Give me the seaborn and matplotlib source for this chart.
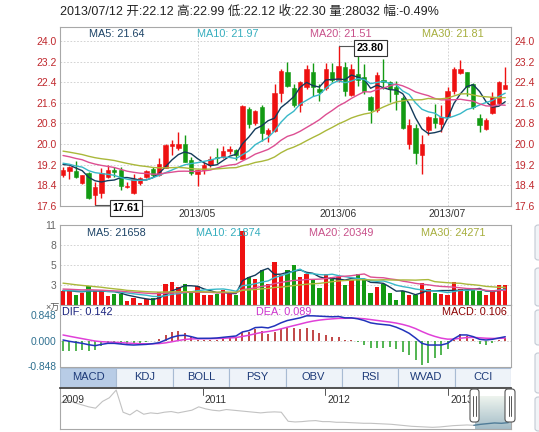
import numpy as np
import pandas as pd
import matplotlib
matplotlib.use("Agg")
import matplotlib.pyplot as plt
import seaborn as sns
from matplotlib.patches import Rectangle, FancyBboxPatch
from matplotlib.lines import Line2D
from matplotlib.colors import LinearSegmentedColormap
from matplotlib.transforms import blended_transform_factory

# daily candles 2013/03/27 .. 2013/07/12
opens = [18.78, 18.95, 18.95, 18.49, 18.87, 18.01, 18.08, 18.72, 18.98, 19.00,
         18.33, 18.08, 18.50, 18.72, 19.04, 18.78, 19.08, 19.90, 19.85, 20.00,
         19.36, 18.85, 18.98, 19.20, 19.50, 19.49, 19.71, 19.77, 19.43, 21.36,
         20.80, 21.42, 20.40, 20.50, 21.96, 22.78, 22.17, 21.53, 22.20, 22.78,
         22.13, 22.16, 22.80, 22.48, 22.97, 21.91, 22.71, 22.61, 21.84, 21.30,
         22.48, 22.39, 22.20, 21.78, 20.00, 20.63, 19.56, 20.55, 21.00, 20.78,
         21.06, 22.04, 22.75, 22.78, 22.33, 21.00, 20.59, 21.19, 21.60, 22.12]
highs = [19.10, 19.15, 19.34, 18.80, 18.90, 18.53, 19.07, 19.17, 19.10, 19.10,
         18.52, 18.85, 18.72, 19.00, 19.10, 19.47, 19.98, 20.16, 20.48, 20.33,
         19.50, 19.00, 19.30, 19.53, 19.85, 19.90, 19.90, 19.82, 21.50, 21.42,
         21.33, 21.51, 20.60, 22.33, 22.90, 23.20, 22.33, 22.45, 23.07, 23.16,
         22.33, 23.16, 23.16, 23.80, 23.20, 23.10, 23.61, 23.10, 21.87, 22.80,
         23.29, 22.45, 22.45, 21.85, 20.97, 20.78, 20.33, 21.10, 21.55, 21.53,
         22.20, 23.00, 23.27, 22.80, 22.35, 21.17, 21.00, 22.00, 22.45, 22.99]
lows = [18.72, 18.65, 18.66, 18.46, 17.85, 17.61, 17.88, 18.66, 18.72, 18.20,
        18.28, 18.05, 18.40, 18.69, 18.72, 18.75, 19.06, 19.56, 19.75, 19.28,
        18.78, 18.36, 18.85, 19.10, 19.25, 19.45, 19.62, 19.36, 19.40, 20.60,
        20.72, 20.13, 20.07, 20.45, 21.62, 22.20, 21.42, 21.23, 22.13, 21.87,
        21.68, 22.10, 22.40, 22.40, 21.87, 21.87, 22.26, 21.95, 20.80, 21.25,
        22.13, 21.62, 21.30, 20.58, 19.81, 19.23, 18.85, 20.33, 20.63, 20.46,
        21.04, 21.94, 22.70, 21.87, 21.36, 20.46, 20.55, 21.15, 21.50, 22.12]
closes = [19.00, 19.10, 18.72, 18.78, 17.91, 18.33, 18.87, 18.98, 18.90, 18.36,
          18.36, 18.65, 18.69, 18.95, 18.78, 19.23, 19.94, 20.00, 19.98, 19.30,
          18.87, 18.98, 19.20, 19.43, 19.47, 19.71, 19.81, 19.56, 21.49, 20.78,
          21.27, 20.42, 20.55, 21.98, 22.84, 22.26, 21.53, 22.39, 22.93, 22.20,
          22.00, 22.90, 22.48, 23.03, 22.07, 22.90, 22.48, 22.04, 21.32, 22.67,
          22.39, 22.13, 21.94, 20.63, 20.72, 19.65, 19.98, 21.04, 20.80, 21.06,
          22.07, 22.90, 22.90, 22.22, 21.42, 20.75, 20.93, 21.81, 22.41, 22.30]
# volume, x10k shares
volumes = [1.90, 2.03, 1.45, 1.67, 2.62, 1.94, 1.90, 1.26, 1.58, 1.58,
           0.63, 0.99, 0.36, 0.81, 1.04, 1.81, 2.94, 3.16, 2.48, 2.94,
           1.72, 2.57, 1.35, 1.35, 1.58, 2.03, 1.67, 1.35, 10.03, 3.84,
           3.52, 4.74, 2.90, 5.90, 4.06, 4.74, 5.42, 3.84, 4.29, 3.39,
           2.35, 4.30, 3.85, 3.90, 2.71, 3.40, 4.20, 3.52, 1.72, 2.48,
           2.94, 1.67, 0.77, 1.94, 1.35, 1.45, 3.03, 2.26, 1.67, 1.58,
           1.45, 3.16, 2.26, 2.03, 2.03, 1.94, 1.35, 2.03, 2.70, 2.80]

# estimated days before the window, only used to start the moving averages
prior_close = [20.3, 20.1, 20.2, 19.9, 20.0, 20.1, 19.9, 20.0, 20.1, 20.0,
               20.1, 20.0, 19.8, 19.9, 19.7, 19.9, 19.8, 19.7, 19.8, 19.8,
               19.5, 19.4, 19.2, 19.3, 19.1, 19.2, 19.3, 19.3, 19.2]
prior_vol = [5.2, 4.8, 4.4, 5.0, 4.6, 4.3, 4.7, 4.5, 4.2, 4.3,
             2.6, 2.3, 2.5, 2.2, 2.6, 2.4, 2.3, 2.5, 2.2, 2.4,
             2.1, 1.9, 2.0, 2.2, 1.8, 2.0, 2.1, 1.9, 2.1]

# MACD panel: DIF, DEA starts at the value shown
dif = [0.033, -0.011, -0.045, -0.078, -0.123, -0.156, -0.112, -0.078, -0.078, -0.100,
       -0.123, -0.134, -0.123, -0.112, -0.089, -0.056, 0.033, 0.123, 0.179, 0.190,
       0.145, 0.089, 0.089, 0.089, 0.100, 0.123, 0.145, 0.167, 0.301, 0.346,
       0.446, 0.458, 0.435, 0.502, 0.603, 0.681, 0.725, 0.770, 0.837, 0.837,
       0.826, 0.815, 0.804, 0.815, 0.770, 0.770, 0.737, 0.681, 0.603, 0.569,
       0.547, 0.525, 0.458, 0.368, 0.257, 0.100, -0.078, -0.134, -0.134, -0.134,
       -0.078, 0.078, 0.201, 0.201, 0.145, 0.056, 0.033, 0.056, 0.100, 0.142]
dea_start = 0.20

date_pos = [21, 43, 60]
date_labels = ['2013/05', '2013/06', '2013/07']
price_ticks = [17.6, 18.4, 19.2, 20.0, 20.8, 21.6, 22.4, 23.2, 24.0]
vol_ticks = [2.73, 5.46, 8.19, 10.92]
vol_tick_labels = ['3', '5', '8', '11']
macd_ticks = [-0.848, 0.0, 0.848]
macd_tick_labels = ['-0.848', '0.000', '0.848']

title = '2013/07/12 开:22.12 高:22.99 低:22.12 收:22.30 量:28032 幅:-0.49%'
ma_legend = ['MA5: 21.64', 'MA10: 21.97', 'MA20: 21.51', 'MA30: 21.81']
vol_legend = ['MA5: 21658', 'MA10: 21874', 'MA20: 20349', 'MA30: 24271']
macd_legend = ['DIF: 0.142', 'DEA: 0.089', 'MACD: 0.106']
tabs = ['MACD', 'KDJ', 'BOLL', 'PSY', 'OBV', 'RSI', 'WVAD', 'CCI']

# long range overview strip (2009 .. 2013)
nav_vals = [10.0, 10.8, 10.0, 9.4, 8.8, 8.4, 10.4, 11.5, 13.8, 7.2,
            6.4, 7.8, 6.6, 7.0, 6.8, 7.2, 7.4, 7.0, 7.4, 7.8,
            8.8, 8.2, 7.8, 7.6, 8.0, 7.8, 7.6, 7.4, 7.2, 7.0,
            7.2, 7.3, 7.2, 4.5, 4.3, 4.4, 4.6, 4.7, 4.4, 4.4,
            4.2, 4.2, 4.1, 4.0, 3.9, 3.9, 3.8, 3.7, 3.6, 3.4,
            3.2, 3.0, 2.9, 2.8, 2.7, 2.8, 3.0, 3.2, 3.3, 3.4,
            3.3, 3.6, 3.8, 4.0, 3.9, 4.1]
nav_years = ['2009', '2011', '2012', '2013']
nav_year_pos = [0, 20.8, 38.6, 56.5]
nav_sel_start = 60.1

RED = '#ee1111'
GREEN = '#139a13'
MA_COLORS = ['#143a5a', '#38b8c8', '#dd4f92', '#aab83a']
MA_TEXT = ['#1c4366', '#36aebe', '#c8508a', '#a6ae3c']
SPINE = '#a8a8a8'
GRID = '#cccccc'

sns.set_theme(style='white')
plt.rcParams['font.family'] = ['Liberation Sans', 'Noto Sans CJK SC']
plt.rcParams['axes.unicode_minus'] = False

o = np.array(opens); h = np.array(highs); l = np.array(lows); c = np.array(closes)
v = np.array(volumes)
idx = np.arange(len(c))
up = c >= o
cols = np.where(up, RED, GREEN)

n0 = len(prior_close)
cs = pd.Series(prior_close + closes)
vs = pd.Series(prior_vol + volumes)
ma_p = [cs.rolling(w).mean().iloc[n0:].to_numpy() for w in (5, 10, 20, 30)]
ma_v = [vs.rolling(w).mean().iloc[n0:].to_numpy() for w in (5, 10, 20, 30)]

dea = [dea_start]
for d in dif[1:]:
    dea.append(dea[-1] + 0.2 * (d - dea[-1]))
dif_a = np.array(dif)
dea_a = np.array(dea)
macd = 2 * (dif_a - dea_a)

W, H = 539, 432
fig = plt.figure(figsize=(W / 100, H / 100), dpi=100)
fig.patch.set_facecolor('white')


def fax(x0, y0, x1, y1):
    return fig.add_axes([x0 / W, 1 - y1 / H, (x1 - x0) / W, (y1 - y0) / H])


def style(ax):
    for s in ax.spines.values():
        s.set_color(SPINE)
        s.set_linewidth(0.8)
    ax.set_facecolor('white')


XLIM = (-0.47, 69.9)

# ---- candles ----
ax_k = fax(60, 26.8, 511, 205.7)
style(ax_k)
ax_k.vlines(idx, l, h, colors=cols, lw=1.0, zorder=3)
body = np.maximum(np.abs(c - o), 0.025)
ax_k.bar(idx, body, bottom=np.minimum(o, c), width=0.68, color=cols,
         edgecolor=cols, linewidth=0.4, zorder=4)
for m, col in zip(ma_p, MA_COLORS):
    sns.lineplot(x=idx, y=m, ax=ax_k, color=col, lw=1.0, zorder=5)
ax_k.set_xlim(*XLIM)
ax_k.set_ylim(17.6, 24.55)
ax_k.set_yticks(price_ticks)
ax_k.set_yticklabels([f'{t:.1f}' for t in price_ticks])
ax_k.tick_params(axis='y', length=0, left=False, right=False, labelleft=True,
                 labelright=True, labelsize=7.5, labelcolor='#c0282d', pad=2.2)
ax_k.set_xticks(date_pos)
ax_k.set_xticklabels(date_labels)
ax_k.tick_params(axis='x', length=0, labelsize=7.4, labelcolor='#333333', pad=2.5)
ax_k.grid(True, color=GRID, ls=(0, (2, 2)), lw=0.6)
ax_k.set_axisbelow(True)
ax_k.set_xlabel('')
ax_k.set_ylabel('')
for t, xf, col in zip(ma_legend, [0.126, 0.3725, 0.623, 0.871], MA_TEXT):
    ax_k.text(xf, 0.962, t, transform=ax_k.transAxes, ha='center', va='center',
              fontsize=7.8, color=col)

hi_i = int(np.argmax(h))
lo_i = int(np.argmin(l))
ax_k.plot([hi_i, hi_i + 2.6], [h[hi_i], h[hi_i]], color='#555555', lw=0.8, zorder=6)
ax_k.text(hi_i + 4.95, h[hi_i] - 0.07, f'{h[hi_i]:.2f}', ha='center', va='center',
          fontsize=7.8, fontweight='bold', color='black', zorder=7,
          bbox=dict(boxstyle='square,pad=0.25', fc='white', ec='#333333', lw=0.8))
ax_k.plot([lo_i, lo_i + 2.45], [l[lo_i], l[lo_i]], color='#555555', lw=0.8,
          zorder=6, clip_on=False)
ax_k.text(lo_i + 4.86, l[lo_i] - 0.105, f'{l[lo_i]:.2f}', ha='center', va='center',
          fontsize=7.8, fontweight='bold', color='black', zorder=7, clip_on=False,
          bbox=dict(boxstyle='square,pad=0.25', fc='white', ec='#333333', lw=0.8))

# ---- volume ----
ax_v = fax(60, 224.7, 511, 305.3)
style(ax_v)
vdf = pd.DataFrame({'i': idx, 'vol': v, 'dir': np.where(up, 'up', 'down')})
sns.barplot(data=vdf, x='i', y='vol', hue='dir', palette={'up': RED, 'down': GREEN},
            native_scale=True, width=0.68, dodge=False, legend=False, errorbar=None,
            saturation=1, linewidth=0, ax=ax_v, zorder=3)
for m, col in zip(ma_v, MA_COLORS):
    sns.lineplot(x=idx, y=m, ax=ax_v, color=col, lw=1.0, zorder=5)
ax_v.set_xlim(*XLIM)
ax_v.set_ylim(0, 10.92)
ax_v.set_yticks(vol_ticks)
ax_v.set_yticklabels(vol_tick_labels)
ax_v.tick_params(axis='y', length=0, left=False, labelsize=7.5, labelcolor='#666666',
                 pad=2.5)
ax_v.set_xticks(date_pos)
ax_v.set_xticklabels([])
ax_v.tick_params(axis='x', length=0)
ax_v.grid(True, color=GRID, ls=(0, (2, 2)), lw=0.6)
ax_v.set_axisbelow(True)
ax_v.set_xlabel('')
ax_v.set_ylabel('')
for t, xf, col in zip(vol_legend, [0.126, 0.3725, 0.623, 0.871], MA_TEXT):
    ax_v.text(xf, 0.898, t, transform=ax_v.transAxes, ha='center', va='center',
              fontsize=7.8, color=col, zorder=8)
fig.text(52 / W, 1 - 308 / H, '×万', ha='center', va='center', fontsize=6.5,
         color='#555555')

# ---- MACD ----
ax_m = fax(60, 305.3, 511, 366.5)
style(ax_m)
ax_m.vlines(idx, 0, macd, colors=np.where(macd >= 0, '#b01515', '#22a022'), lw=1.1,
            zorder=3)
sns.lineplot(x=idx, y=dea_a, ax=ax_m, color='#e040d8', lw=1.1, zorder=4)
sns.lineplot(x=idx, y=dif_a, ax=ax_m, color='#2233bb', lw=1.1, zorder=5)
ax_m.set_xlim(*XLIM)
ax_m.set_ylim(-0.848, 1.187)
ax_m.set_yticks(macd_ticks)
ax_m.set_yticklabels(macd_tick_labels)
ax_m.tick_params(axis='y', length=0, left=False, labelsize=7.4, labelcolor='#2f7090',
                 pad=2.5)
ax_m.set_xticks([])
ax_m.grid(True, axis='y', color=GRID, ls=(0, (2, 2)), lw=0.6)
ax_m.set_axisbelow(True)
ax_m.set_xlabel('')
ax_m.set_ylabel('')
ax_m.text(0.005, 0.895, macd_legend[0], transform=ax_m.transAxes, ha='left',
          va='center', fontsize=7.8, color='#1a237e')
ax_m.text(0.497, 0.895, macd_legend[1], transform=ax_m.transAxes, ha='center',
          va='center', fontsize=7.8, color='#cc33cc')
ax_m.text(0.991, 0.895, macd_legend[2], transform=ax_m.transAxes, ha='right',
          va='center', fontsize=7.8, color='#8b0000')

# ---- indicator tabs ----
ax_t = fax(60, 367.5, 511, 386.5)
ax_t.set_xlim(0, len(tabs))
ax_t.set_ylim(0, 1)
ax_t.axis('off')
for k, name in enumerate(tabs):
    ax_t.add_patch(Rectangle((k, 0), 1, 1, fc='#b8cce6' if k == 0 else '#eef3f9',
                             ec='#a8bbd3', lw=0.8))
    ax_t.text(k + 0.5, 0.5, name, ha='center', va='center', fontsize=8,
              color='#1d3a78')

# ---- overview navigator ----
ax_n = fax(60, 387.7, 511, 429)
style(ax_n)
ax_n.spines['top'].set_color('#333333')
ax_n.spines['top'].set_linewidth(1.2)
kx = np.arange(len(nav_vals))
nav = np.array(nav_vals)
cmap = LinearSegmentedColormap.from_list('sel', ['#eef4ee', '#a4bdc8'])
ax_n.imshow(np.linspace(0, 1, 64).reshape(-1, 1), extent=[nav_sel_start, 65.4, 2.2, 12.0],
            aspect='auto', cmap=cmap, origin='upper', zorder=1)
sel = kx >= 60
sns.lineplot(x=kx[kx <= 60], y=nav[kx <= 60], ax=ax_n, color='#c2c2c2', lw=0.8, zorder=3)
sns.lineplot(x=kx[sel], y=nav[sel], ax=ax_n, color='#4f7c98', lw=1.0, zorder=3)
ax_n.set_xlim(-0.17, 65.4)
ax_n.set_ylim(2.2, 14.5)
ax_n.set_xticks([])
ax_n.set_yticks([])
ax_n.set_xlabel('')
ax_n.set_ylabel('')
bt = blended_transform_factory(ax_n.transData, ax_n.transAxes)
for yr, xp in zip(nav_years, nav_year_pos):
    ax_n.text(xp + 0.1, 0.71, yr, transform=bt, ha='left', va='center', fontsize=7.4,
              color='#333333', zorder=4)
    if xp > 0:
        ax_n.plot([xp - 0.2, xp - 0.2], [0.82, 1.0], transform=bt, color='#555555',
                  lw=0.7, zorder=4)

# selection handles (pixel boxes)
for hx0, hx1 in [(470, 479), (505, 515)]:
    fig.add_artist(FancyBboxPatch((hx0 / W, 1 - 422 / H), (hx1 - hx0) / W, 33 / H,
                                  boxstyle='round,pad=0,rounding_size=0.006',
                                  mutation_aspect=W / H, transform=fig.transFigure,
                                  fc='white', ec='#555555', lw=0.8, zorder=10))
    xm = (hx0 + hx1) / 2
    for dx in (-1.3, 1.3):
        fig.add_artist(Line2D([(xm + dx) / W] * 2, [1 - 416 / H, 1 - 396 / H],
                              transform=fig.transFigure, color='#555555', lw=0.7,
                              zorder=11))

# cut-off side buttons at the right edge
for y0, y1 in [(225, 260), (268, 306), (310, 345), (353, 393), (397, 431)]:
    fig.add_artist(FancyBboxPatch((535 / W, 1 - y1 / H), 12 / W, (y1 - y0) / H,
                                  boxstyle='round,pad=0,rounding_size=0.006',
                                  transform=fig.transFigure, fc='#f1f4f7',
                                  ec='#c3cad4', lw=0.8))

fig.text(60 / W, 1 - 12 / H, title, ha='left', va='center', fontsize=9, color='#222222')

plt.savefig('out.png', dpi=100)
